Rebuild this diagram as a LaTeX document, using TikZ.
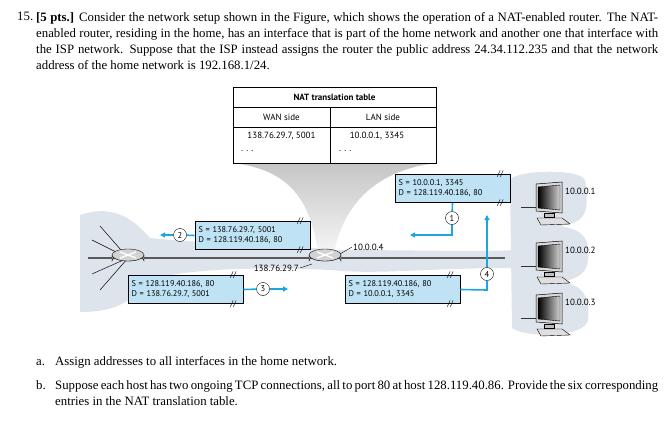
\documentclass[tikz,border=0pt]{standalone}
\usepackage{fontspec}
\setmainfont{Liberation Serif}
\newfontfamily\sfig{PT Sans}
\usetikzlibrary{shapes.geometric,arrows.meta}
\definecolor{pk}{HTML}{BFE3F5}
\definecolor{ar}{HTML}{1BA6E0}
\definecolor{bg}{HTML}{DDE4EC}
\begin{document}
\begin{tikzpicture}[x=1pt,y=-1pt,
  pkt/.style={draw=black,fill=pk,line width=0.6pt,minimum width=115pt,minimum height=28pt,inner sep=2pt,align=left,font=\sfig\fontsize{8.3}{10}\selectfont,text width=108pt},
  num/.style={circle,draw=black,fill=white,inner sep=0.6pt,minimum size=13pt,font=\sfig\fontsize{8.5}{9}\selectfont},
  flow/.style={ar,line width=1.6pt},
  flowa/.style={flow,-{Triangle[length=5pt,width=5pt]}},
  lbl/.style={font=\sfig\fontsize{9}{10}\selectfont,inner sep=1pt},
  txt/.style={anchor=north west,inner sep=0pt,font=\fontsize{12.8}{16}\selectfont,align=justify}]
\useasboundingbox (0,0) rectangle (671,425);
% text
\node[anchor=base west,inner sep=0pt,font=\fontsize{12.8}{16}\selectfont] (n15) at (17,21) {15.};
\node[txt,text width=622pt,anchor=north west] (p) at (36,10) {\strut\textbf{[5 pts.]} Consider the network setup shown in the Figure, which shows the operation of a NAT-enabled router. The NAT-enabled router, residing in the home, has an interface that is part of the home network and another one that interface with the ISP network. Suppose that the ISP instead assigns the router the public address 24.34.112.235 and that the network address of the home network is 192.168.1/24.};
\node[anchor=base west,inner sep=0pt,font=\fontsize{12.8}{16}\selectfont] (la) at (36,365) {a.};
\node[anchor=base west,inner sep=0pt,font=\fontsize{12.8}{16}\selectfont] (qa) at (55,365) {Assign addresses to all interfaces in the home network.};
\node[anchor=base west,inner sep=0pt,font=\fontsize{12.8}{16}\selectfont] (lb) at (36,389) {b.};
\node[txt,text width=603pt] (qb) at (55,378) {\strut Suppose each host has two ongoing TCP connections, all to port 80 at host 128.119.40.86. Provide the six corresponding entries in the NAT translation table.};
% backgrounds
\fill[bg] (80,215) .. controls (110,205) and (130,215) .. (150,238) .. controls (220,245) and (300,245) .. (330,250)
  .. controls (420,250) and (470,252) .. (520,250) -- (520,268) .. controls (420,268) and (380,275) .. (330,270)
  .. controls (250,266) and (180,270) .. (150,280) .. controls (130,305) and (110,312) .. (80,312) -- cycle;
\fill[bg] (510,180) .. controls (515,170) and (580,168) .. (585,180) .. controls (590,215) and (585,222) .. (560,226)
  .. controls (585,230) and (590,240) .. (588,260) .. controls (586,278) and (570,280) .. (560,282)
  .. controls (585,284) and (590,300) .. (588,320) .. controls (585,338) and (525,338) .. (512,328) -- cycle;
\shade[top color=gray!45,bottom color=gray!8] (233,163) .. controls (290,170) and (310,200) .. (318,252) -- (334,252)
  .. controls (345,200) and (380,170) .. (436,163) -- cycle;
% table
\draw[line width=0.6pt,fill=white] (233,87) rectangle (436,163);
\draw[line width=0.6pt] (233,107) -- (436,107) (233,127) -- (436,127) (330,107) -- (330,163);
\node[lbl,font=\sfig\bfseries\fontsize{9}{10}\selectfont] (th) at (334.5,97) {NAT translation table};
\node[lbl] (tw) at (281.5,117) {WAN side};
\node[lbl] (tl) at (383,117) {LAN side};
\node[lbl] (t1) at (281.5,136) {138.76.29.7, 5001};
\node[lbl] (t2) at (377,136) {10.0.0.1, 3345};
\node[lbl,anchor=west] (d1) at (240,151) {. . .};
\node[lbl,anchor=west] (d2) at (338,151) {. . .};
% lines
\coordinate (lw) at (88,258); \coordinate (le) at (505,258);
\draw[gray!70!black,line width=1.2pt] (lw) -- (le);
\foreach \a/\b in {100/226,92/240,92/274,100/290} \draw[line width=0.5pt] (128,258) -- (\a,\b);
% routers
\foreach \n/\x in {r1/128,r2/325}{
 \fill[gray!65,draw=gray!20!black,line width=0.4pt] (\x-16,255) -- (\x-16,261) arc (180:360:16 and 6) -- (\x+16,255) arc (0:180:16 and 6);
 \fill[gray!35,draw=gray!20!black,line width=0.4pt] (\x,255) ellipse (16 and 6);
 \draw[white,line width=1.3pt] (\x-8,252) -- (\x+8,258) (\x-8,258) -- (\x+8,252);
 \node[inner sep=0pt] (\n) at (\x,258) {};
}
\coordinate (a138) at (312,264); \coordinate (a10) at (340,254);
\node[lbl,anchor=east] (l138) at (300,268) {138.76.29.7};
\draw[line width=0.4pt] (l138.east) -- (a138);
\node[lbl,anchor=west] (l104) at (352,247) {10.0.0.4};
\draw[line width=0.4pt] (l104.west) -- (a10);
% packets
\node[pkt] (b2) at (252.5,235.5) {S = 138.76.29.7, 5001\\D = 128.119.40.186, 80};
\node[pkt] (b3) at (185.5,289.5) {S = 128.119.40.186, 80\\D = 138.76.29.7, 5001};
\node[pkt] (b1) at (452.5,188.5) {S = 10.0.0.1, 3345\\D = 128.119.40.186, 80};
\node[pkt] (b4) at (402.5,289.5) {S = 128.119.40.186, 80\\D = 10.0.0.1, 3345};
\foreach \b in {b1,b2,b3,b4}{
 \node[font=\sfig\fontsize{8}{8}\selectfont,inner sep=0pt] at ([xshift=-10pt]\b.north east) {//};
 \node[font=\sfig\fontsize{8}{8}\selectfont,inner sep=0pt] at ([xshift=-10pt]\b.south east) {//};}
% flows
\node[num] (c2) at (180,235) {2};
\coordinate (e2) at (160,235);
\draw[flow] (b2.west) -- (c2); \draw[flowa] (c2) -- (e2);
\node[num] (c3) at (263,289) {3};
\coordinate (e3) at (288,289);
\draw[flow] (b3.east) -- (c3); \draw[flowa] (c3) -- (e3);
\node[num] (c1) at (452,218) {1};
\coordinate (k1) at (452,235); \coordinate (e1) at (410,235);
\draw[flow] (b1.south) -- (c1); \draw[flowa] (c1) -- (k1) -- (e1);
\node[num] (c4) at (487,274) {4};
\coordinate (k4) at (487,290); \coordinate (e4) at (487,215);
\draw[flow] (b4.east) -- (k4) -- (c4); \draw[flowa] (c4) -- (e4);
% hosts
\foreach \n/\y/\t in {h1/191/10.0.0.1,h2/250/10.0.0.2,h3/302/10.0.0.3}{
 \draw[gray!40!black,line width=0.6pt] (521,\y+16) -- (538,\y+16);
 \draw[black,fill=gray!30,line width=0.5pt] (536,\y-7) -- (562,\y-9) -- (562,\y+22) -- (536,\y+20) -- cycle;
 \shade[left color=black,right color=gray!35,draw=black,line width=0.4pt] (538,\y-4) -- (560,\y-6) -- (560,\y+19) -- (538,\y+17) -- cycle;
 \draw[black,fill=gray!50,line width=0.4pt] (544,\y+22) -- (554,\y+22) -- (554,\y+26) -- (544,\y+26) -- cycle;
 \draw[black,fill=gray!25,line width=0.4pt] (537,\y+27) -- (562,\y+27) -- (570,\y+33) -- (541,\y+34) -- cycle;
 \node[lbl,anchor=west] (\n) at (564,\y) {\t};
}
\end{tikzpicture}
\end{document}
